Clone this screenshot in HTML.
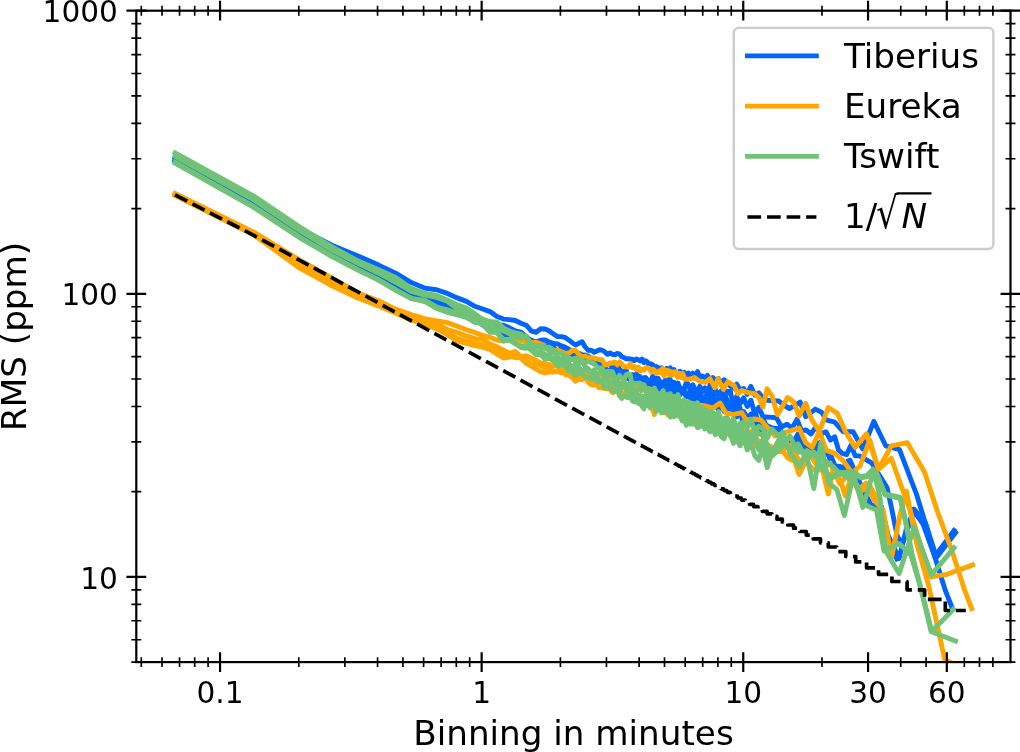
<!DOCTYPE html>
<html lang="en"><head><meta charset="utf-8"><title>RMS vs binning</title>
<style>html,body{margin:0;padding:0;background:#fff}svg{display:block}text{font-family:"DejaVu Sans","Liberation Sans",sans-serif;fill:#000}</style></head><body>
<svg width="1020" height="752" viewBox="0 0 1020 752">
<rect width="1020" height="752" fill="#fff"/>
<defs><clipPath id="ax"><rect x="136.30" y="10.70" width="874.20" height="651.40"/></clipPath></defs>
<g clip-path="url(#ax)" fill="none" stroke-linejoin="round" stroke-linecap="square" stroke-width="4.9">
<path d="M175.0 157.5 L253.8 200.5 L299.8 229.0 L332.5 245.5 L357.9 255.9 L378.6 265.1 L396.1 273.4 L411.3 282.6 L424.6 288.1 L436.6 289.8 L447.4 293.4 L457.3 297.9 L466.4 301.4 L474.8 306.3 L482.7 309.0 L490.0 311.6 L496.9 316.5 L503.4 319.1 L509.5 319.6 L515.4 320.5 L520.9 323.2 L526.2 325.2 L531.2 330.8 L536.1 332.3 L540.7 328.8 L545.2 329.0 L549.4 331.0 L553.6 334.1 L557.6 336.6 L561.4 336.6 L565.1 337.4 L568.7 339.9 L572.2 342.7 L575.6 345.0 L578.9 343.3 L582.1 341.8 L585.2 347.0 L588.3 350.5 L591.2 350.1 L594.1 352.3 L596.9 351.0 L599.6 349.7 L602.3 350.3 L604.9 352.0 L607.5 354.3 L610.0 352.9 L612.4 354.4 L614.8 354.9 L617.2 353.4 L619.5 354.1 L621.7 356.7 L623.9 357.6 L626.1 358.7 L628.2 358.7 L630.3 359.0 L632.3 359.2 L634.3 360.8 L636.3 359.0 L638.3 359.8 L640.2 360.9 L642.0 359.0 L643.9 362.5 L645.7 360.7 L647.5 362.0 L649.3 365.9 L651.0 363.8 L652.7 364.7 L654.4 368.4 L656.0 366.5 L658.0 367.5 L659.6 369.0 L661.4 367.8 L663.1 370.0 L664.9 370.7 L666.6 368.4 L668.5 371.6 L670.3 367.8 L672.2 371.9 L674.1 369.7 L676.0 372.3 L678.0 372.8 L680.0 371.3 L682.1 375.1 L684.2 372.3 L686.3 375.2 L688.4 373.1 L690.7 376.4 L692.9 373.2 L695.2 378.3 L697.5 371.5 L699.9 377.6 L702.4 375.9 L704.9 377.8 L707.4 375.4 L710.0 379.3 L712.7 377.6 L715.4 380.3 L718.3 378.6 L721.1 382.7 L724.1 379.7 L727.1 382.1 L730.2 385.9 L733.4 388.1 L736.7 384.2 L740.1 389.9 L743.6 388.5 L747.2 394.3 L750.9 386.4 L754.8 395.1 L758.8 392.8 L762.9 398.0 L767.2 400.3 L778.6 401.0 L785.1 405.9 L789.4 408.6 L800.2 402.1 L805.6 416.7 L815.3 409.1 L821.8 412.4 L826.1 419.9 L834.7 422.1 L843.4 431.8 L853.1 431.8 L862.8 449.0 L873.8 421.3 L885.7 445.8 L899.5 449.6 L916.4 494.0 L924.7 520.9 L934.7 556.4 L954.1 530.5" stroke="#0165fc"/>
<path d="M175.0 160.2 L253.8 203.6 L299.8 234.2 L332.5 253.2 L357.9 265.4 L378.6 274.8 L396.1 283.3 L411.3 292.4 L424.6 296.7 L436.6 301.2 L447.4 303.9 L457.3 308.4 L466.4 313.3 L474.8 316.6 L482.7 322.0 L490.0 323.8 L496.9 325.0 L503.4 325.3 L509.5 327.8 L515.4 330.9 L520.9 332.1 L526.2 337.1 L531.2 340.4 L536.1 341.9 L540.7 340.3 L545.2 340.0 L549.4 342.1 L553.6 343.5 L557.6 343.9 L561.4 345.9 L565.1 347.1 L568.7 349.1 L572.2 350.9 L575.6 351.8 L578.9 353.2 L582.1 354.9 L585.2 354.9 L588.3 356.2 L591.2 358.4 L594.1 358.7 L596.9 359.8 L599.6 361.6 L602.3 364.9 L604.9 364.8 L607.5 364.6 L610.0 364.9 L612.4 366.6 L614.8 371.9 L617.2 363.6 L619.5 369.8 L621.7 370.9 L623.9 373.0 L626.1 369.9 L628.2 376.9 L630.3 376.3 L632.3 374.6 L634.3 375.4 L636.3 374.1 L638.3 376.2 L640.2 376.7 L642.0 379.7 L643.9 379.1 L645.7 378.3 L647.5 380.5 L649.3 380.8 L651.0 380.4 L652.7 376.3 L654.4 382.5 L656.0 378.2 L658.0 378.3 L659.6 381.0 L661.4 384.2 L663.1 384.5 L664.9 380.3 L666.6 386.8 L668.5 379.4 L670.3 379.5 L672.2 387.0 L674.1 382.2 L676.0 388.4 L678.0 383.1 L680.0 389.3 L682.1 389.2 L684.2 388.7 L686.3 382.4 L688.4 384.5 L690.7 391.6 L692.9 384.8 L695.2 389.9 L697.5 391.3 L699.9 386.4 L702.4 391.7 L704.9 387.9 L707.4 394.7 L710.0 384.9 L712.7 396.8 L715.4 389.4 L718.3 396.9 L721.1 390.8 L724.1 401.6 L727.1 391.5 L730.2 391.1 L733.4 404.9 L736.7 396.4 L740.1 403.7 L743.6 397.9 L747.2 406.4 L750.9 400.2 L754.8 414.2 L758.8 407.4 L762.9 416.6 L776.3 417.8 L781.6 427.0 L787.0 424.3 L792.0 428.1 L797.0 419.4 L801.5 430.7 L806.0 430.0 L811.0 434.0 L816.0 426.7 L821.0 433.6 L826.1 431.9 L830.4 440.1 L834.7 436.8 L838.5 450.0 L842.3 453.4 L846.6 454.6 L850.9 445.4 L855.2 455.7 L859.5 455.9 L871.9 463.2 L887.0 487.5 L891.3 506.9 L897.0 535.0 L902.0 545.0 L908.0 528.0 L913.9 509.0 L925.5 523.0 L936.5 557.5 L955.5 532.8" stroke="#0165fc"/>
<path d="M175.0 160.5 L253.8 203.9 L299.8 234.5 L332.5 253.5 L357.9 265.9 L378.6 275.9 L396.1 284.8 L411.3 293.7 L424.6 299.1 L436.6 301.3 L447.4 305.2 L457.3 308.9 L466.4 315.4 L474.8 319.5 L482.7 325.1 L490.0 328.5 L496.9 330.5 L503.4 334.7 L509.5 334.9 L515.4 335.5 L520.9 335.6 L526.2 340.7 L531.2 342.9 L536.1 342.0 L540.7 344.7 L545.2 346.6 L549.4 344.8 L553.6 347.5 L557.6 351.6 L561.4 348.1 L565.1 352.3 L568.7 356.4 L572.2 353.7 L575.6 354.6 L578.9 356.9 L582.1 358.8 L585.2 360.0 L588.3 357.6 L591.2 359.6 L594.1 362.6 L596.9 363.1 L599.6 367.0 L602.3 365.8 L604.9 366.5 L607.5 372.2 L610.0 370.0 L612.4 368.8 L614.8 371.6 L617.2 372.2 L619.5 375.1 L621.7 375.6 L623.9 374.7 L626.1 375.0 L628.2 375.4 L630.3 380.4 L632.3 383.3 L634.3 379.6 L636.3 381.1 L638.3 381.4 L640.2 380.0 L642.0 380.1 L643.9 380.6 L645.7 377.5 L647.5 380.2 L649.3 383.9 L651.0 386.0 L652.7 383.9 L654.4 383.5 L656.0 386.3 L658.0 390.8 L659.6 384.2 L661.4 388.7 L663.1 389.0 L664.9 383.8 L666.6 386.1 L668.5 386.5 L670.3 385.7 L672.2 391.7 L674.1 385.7 L676.0 392.3 L678.0 388.7 L680.0 387.7 L682.1 389.0 L684.2 389.5 L686.3 393.9 L688.4 396.3 L690.7 391.7 L692.9 397.4 L695.2 392.4 L697.5 391.9 L699.9 392.7 L702.4 401.2 L704.9 396.6 L707.4 403.3 L710.0 403.2 L712.7 397.8 L715.4 403.6 L718.3 397.3 L721.1 398.6 L724.1 405.6 L727.1 399.4 L730.2 408.4 L733.4 409.8 L736.7 402.5 L740.1 412.9 L743.6 411.6 L747.2 417.1 L750.9 420.4 L754.8 409.6 L758.8 425.5 L762.9 418.1 L767.2 427.8 L780.0 428.8 L785.0 439.0 L790.0 437.9 L795.0 440.9 L800.0 434.9 L805.0 446.6 L810.0 447.3 L815.0 450.2 L820.0 442.6 L825.0 453.7 L830.0 453.5 L835.0 466.0 L840.0 466.4 L845.0 469.1 L850.0 460.2 L860.0 483.0 L870.8 504.7 L881.6 506.9 L888.0 535.0 L899.1 558.5 L906.5 528.0 L914.0 511.0 L923.0 524.0 L934.7 556.4 L945.5 590.9 L952.3 608.2" stroke="#0165fc"/>
<path d="M175.0 160.8 L253.8 204.0 L299.8 234.5 L332.5 253.8 L357.9 266.4 L378.6 276.0 L396.1 283.9 L411.3 293.6 L424.6 298.6 L436.6 304.5 L447.4 308.2 L457.3 312.5 L466.4 315.4 L474.8 320.5 L482.7 323.0 L490.0 326.8 L496.9 330.0 L503.4 332.5 L509.5 333.3 L515.4 332.8 L520.9 335.4 L526.2 340.7 L531.2 343.7 L536.1 346.4 L540.7 345.7 L545.2 345.9 L549.4 350.1 L553.6 351.7 L557.6 351.6 L561.4 352.6 L565.1 351.7 L568.7 354.8 L572.2 359.1 L575.6 356.9 L578.9 358.5 L582.1 360.3 L585.2 361.2 L588.3 359.4 L591.2 362.4 L594.1 363.6 L596.9 365.1 L599.6 366.0 L602.3 368.0 L604.9 367.3 L607.5 373.7 L610.0 371.5 L612.4 375.8 L614.8 377.5 L617.2 375.6 L619.5 373.2 L621.7 371.3 L623.9 373.1 L626.1 376.7 L628.2 378.9 L630.3 377.7 L632.3 378.8 L634.3 387.0 L636.3 383.2 L638.3 379.8 L640.2 384.0 L642.0 381.3 L643.9 377.7 L645.7 383.8 L647.5 382.7 L649.3 385.0 L651.0 390.0 L652.7 386.8 L654.4 384.3 L656.0 390.5 L658.0 382.3 L659.6 383.8 L661.4 391.8 L663.1 390.8 L664.9 385.4 L666.6 392.1 L668.5 388.4 L670.3 392.3 L672.2 392.8 L674.1 389.1 L676.0 394.2 L678.0 388.1 L680.0 394.8 L682.1 390.9 L684.2 392.6 L686.3 396.8 L688.4 393.9 L690.7 399.6 L692.9 402.1 L695.2 396.1 L697.5 395.6 L699.9 404.0 L702.4 399.5 L704.9 404.1 L707.4 407.2 L710.0 396.4 L712.7 407.2 L715.4 403.7 L718.3 410.0 L721.1 402.6 L724.1 411.5 L727.1 405.2 L730.2 411.7 L733.4 403.4 L736.7 416.8 L740.1 408.1 L743.6 427.1 L747.2 418.8 L750.9 414.1 L754.8 428.8 L758.8 419.9 L762.9 435.8 L767.2 425.6 L777.8 430.5 L782.8 440.6 L787.8 439.0 L792.8 442.9 L797.8 434.2 L802.8 447.0 L807.8 447.9 L812.8 449.9 L817.8 443.2 L822.8 453.9 L827.8 453.6 L832.8 466.6 L837.8 467.1 L842.8 468.4 L847.8 461.2 L852.8 477.9 L857.8 482.3 L868.6 505.2 L879.4 507.4 L885.8 535.5 L896.9 559.0" stroke="#0165fc"/>
<path d="M175.0 193.5 L253.8 232.2 L299.8 260.2 L332.5 278.5 L357.9 293.0 L378.6 300.7 L396.1 309.4 L411.3 314.6 L424.6 318.7 L436.6 320.8 L447.4 322.6 L457.3 326.3 L466.4 329.7 L474.8 332.5 L482.7 335.5 L490.0 337.3 L496.9 340.0 L503.4 341.2 L509.5 339.4 L515.4 340.2 L520.9 340.5 L526.2 341.4 L531.2 342.8 L536.1 342.3 L540.7 343.8 L545.2 346.9 L549.4 348.9 L553.6 350.5 L557.6 350.1 L561.4 351.7 L565.1 353.3 L568.7 353.3 L572.2 350.5 L575.6 350.4 L578.9 354.3 L582.1 357.0 L585.2 356.0 L588.3 357.9 L591.2 357.7 L594.1 358.1 L596.9 358.8 L599.6 359.8 L602.3 359.8 L604.9 364.8 L607.5 364.8 L610.0 362.9 L612.4 363.2 L614.8 362.0 L617.2 365.0 L619.5 361.9 L621.7 363.8 L623.9 366.5 L626.1 366.8 L628.2 367.1 L630.3 363.9 L632.3 367.6 L634.3 366.6 L636.3 369.7 L638.3 367.1 L640.2 371.1 L642.0 369.3 L643.9 370.1 L645.7 368.0 L647.5 368.0 L649.3 368.3 L651.0 371.8 L652.7 369.3 L654.4 370.0 L656.0 373.3 L657.7 372.5 L659.3 370.8 L660.9 372.9 L662.4 368.6 L664.0 376.1 L664.8 369.6 L666.4 373.3 L667.9 370.3 L669.5 375.2 L671.1 371.6 L672.7 375.0 L674.3 372.0 L676.0 371.6 L677.6 377.4 L679.4 373.2 L681.1 377.5 L682.9 373.4 L684.6 379.2 L690.0 379.1 L694.3 377.5 L699.7 381.3 L705.1 382.4 L710.0 378.6 L714.8 387.8 L718.0 378.6 L723.4 389.4 L727.8 381.8 L734.2 385.6 L738.0 393.7 L741.8 390.5 L748.3 392.6 L754.7 393.7 L759.0 397.5 L762.8 407.2 L767.1 388.8 L772.0 395.8 L777.4 414.7 L787.6 397.5 L793.6 401.8 L799.1 416.1 L805.6 403.2 L811.5 419.4 L819.3 431.2 L828.3 407.5 L837.4 413.4 L845.5 431.8 L855.2 447.4 L866.5 433.9 L878.5 469.3 L891.3 445.9 L907.3 442.7 L924.5 472.0 L936.9 510.0 L952.0 551.0 L964.9 590.9 L971.7 608.7" stroke="#ffa500"/>
<path d="M175.0 194.2 L253.8 233.0 L299.8 263.0 L332.5 281.5 L357.9 295.0 L378.6 302.7 L396.1 310.9 L411.3 316.0 L424.6 320.3 L436.6 323.7 L447.4 329.6 L457.3 332.5 L466.4 335.9 L474.8 338.6 L482.7 339.4 L490.0 344.1 L496.9 346.8 L503.4 350.2 L509.5 353.3 L515.4 351.4 L520.9 356.8 L526.2 355.6 L531.2 358.0 L536.1 360.5 L540.7 363.0 L545.2 363.8 L549.4 364.6 L553.6 366.1 L557.6 364.9 L561.4 367.3 L565.1 372.5 L568.7 366.4 L572.2 369.9 L575.6 371.5 L578.9 371.3 L582.1 373.3 L585.2 374.8 L588.3 375.2 L591.2 376.3 L594.1 375.4 L596.9 378.9 L599.6 378.0 L602.3 377.6 L604.9 384.0 L607.5 380.7 L610.0 380.9 L612.4 378.7 L614.8 383.3 L617.2 381.8 L619.5 382.7 L621.7 386.2 L623.9 386.8 L626.1 384.9 L628.2 387.7 L630.3 388.3 L632.3 387.7 L634.3 386.4 L636.3 389.6 L638.3 386.3 L640.2 390.3 L642.0 390.5 L643.9 388.2 L645.7 388.7 L647.5 397.0 L649.3 388.6 L651.0 392.4 L652.7 392.4 L654.4 394.6 L656.0 395.0 L657.7 396.7 L659.3 396.9 L660.9 394.1 L662.4 397.6 L664.0 398.0 L664.8 394.7 L666.4 400.1 L667.9 395.3 L669.5 398.9 L671.1 399.8 L672.7 401.7 L674.3 396.9 L676.0 401.1 L677.6 397.0 L679.4 404.3 L690.0 403.0 L698.0 405.0 L706.0 406.0 L713.0 408.0 L720.0 403.0 L725.6 412.6 L733.0 414.7 L741.8 412.6 L746.0 420.0 L754.7 419.0 L761.0 420.0 L765.5 425.5 L775.0 436.0 L784.0 432.9 L799.1 428.0 L805.6 442.6 L812.1 447.4 L819.3 431.2 L826.1 450.1 L834.7 453.4 L843.4 460.9 L852.0 473.0 L860.0 466.0 L869.7 440.0 L878.3 469.1 L891.3 458.3 L903.2 491.8 L909.9 510.0 L930.4 576.9 L945.5 574.7 L972.5 565.0" stroke="#ffa500"/>
<path d="M175.0 194.8 L253.8 234.0 L299.8 266.0 L332.5 284.0 L357.9 297.0 L378.6 304.7 L396.1 311.8 L411.3 317.9 L424.6 322.1 L436.6 328.1 L447.4 334.8 L457.3 340.8 L466.4 343.4 L474.8 345.7 L482.7 347.2 L490.0 349.4 L496.9 353.9 L503.4 358.0 L509.5 357.0 L515.4 355.4 L520.9 358.0 L526.2 363.3 L531.2 366.0 L536.1 369.2 L540.7 371.6 L545.2 373.0 L549.4 371.9 L553.6 372.1 L557.6 370.6 L561.4 368.7 L565.1 374.4 L568.7 375.3 L572.2 377.5 L575.6 381.3 L578.9 379.2 L582.1 379.8 L585.2 377.5 L588.3 382.4 L591.2 384.7 L594.1 384.6 L596.9 385.4 L599.6 387.8 L602.3 387.9 L604.9 388.6 L607.5 388.6 L610.0 389.5 L612.4 392.6 L614.8 391.7 L617.2 391.7 L619.5 392.2 L621.7 393.9 L623.9 395.6 L626.1 397.2 L628.2 397.4 L630.3 397.2 L632.3 395.2 L634.3 400.2 L636.3 398.3 L638.3 400.4 L640.2 404.3 L642.0 403.5 L643.9 401.7 L645.7 405.4 L647.5 404.4 L649.3 404.3 L651.0 408.5 L652.7 408.4 L654.4 414.5 L656.0 406.2 L657.7 407.8 L659.3 409.5 L660.9 405.7 L662.4 411.8 L664.0 408.8 L664.8 412.9 L666.4 409.2 L667.9 414.8 L669.5 413.4 L671.1 410.9 L672.7 409.7 L674.3 415.8 L676.0 409.8 L677.6 408.8 L679.4 416.6 L681.1 413.9 L682.9 418.6 L684.6 411.9 L686.5 420.2 L688.3 414.3 L690.2 419.8 L692.1 417.1 L694.0 424.5 L696.0 423.0 L698.0 422.1 L700.1 418.2 L702.2 423.5 L704.3 421.4 L706.4 421.2 L708.7 426.8 L710.9 422.8 L713.2 430.4 L715.5 428.9 L717.9 425.0 L720.4 434.2 L722.9 432.9 L725.4 432.9 L728.0 428.3 L730.7 436.4 L733.4 429.4 L736.3 440.1 L739.1 432.0 L742.1 431.0 L745.1 442.4 L748.2 433.7 L751.4 437.1 L754.7 446.4 L758.1 440.5 L770.0 452.0 L780.0 447.0 L788.0 458.0 L794.8 461.6 L799.1 474.5 L805.6 461.6 L814.0 470.0 L821.8 467.0 L828.3 493.9 L833.6 467.0 L840.0 480.0 L845.5 496.1 L850.9 476.7 L858.0 490.0 L866.0 483.0 L874.0 500.0 L883.0 510.0 L891.6 557.5 L900.0 515.0 L906.4 491.2 L916.4 542.4 L928.5 585.0 L944.7 659.5 L960.0 667.0" stroke="#ffa500"/>
<path d="M175.0 195.3 L253.8 234.8 L299.8 268.2 L332.5 286.0 L357.9 298.0 L378.6 306.0 L396.1 313.2 L411.3 320.2 L424.6 324.0 L436.6 329.0 L447.4 333.5 L457.3 338.3 L466.4 341.1 L474.8 343.3 L482.7 345.0 L490.0 348.5 L496.9 352.1 L503.4 354.6 L509.5 355.7 L515.4 357.8 L520.9 357.3 L526.2 361.0 L531.2 364.1 L536.1 363.9 L540.7 365.4 L545.2 368.3 L549.4 368.1 L553.6 371.4 L557.6 371.1 L561.4 373.0 L565.1 372.0 L568.7 374.2 L572.2 377.3 L575.6 373.7 L578.9 378.5 L582.1 374.2 L585.2 377.5 L588.3 380.0 L591.2 379.0 L594.1 381.0 L596.9 383.7 L599.6 383.1 L602.3 379.6 L604.9 384.6 L607.5 386.6 L610.0 386.0 L612.4 386.5 L614.8 387.5 L617.2 385.1 L619.5 387.9 L621.7 393.1 L623.9 393.4 L626.1 393.4 L628.2 391.8 L630.3 392.5 L632.3 395.2 L634.3 395.2 L636.3 395.7 L638.3 395.2 L640.2 397.9 L642.0 396.3 L643.9 397.7 L645.7 400.9 L647.5 395.9 L649.3 400.7 L651.0 398.6 L652.7 395.3 L654.4 398.3 L656.0 399.3 L657.7 404.6 L659.3 406.0 L660.9 399.3 L662.4 406.2 L664.0 403.0 L664.8 406.6 L666.4 403.8 L667.9 403.7 L669.5 409.2 L671.1 403.3 L672.7 404.5 L674.3 404.4 L676.0 414.1 L677.6 412.0 L679.4 406.3 L681.1 413.4 L682.9 407.9 L684.6 407.8 L686.5 414.2 L688.3 407.7 L690.2 410.2 L692.1 418.4 L694.0 409.4 L696.0 418.6 L698.0 412.5 L700.1 417.9 L702.2 414.7 L704.3 419.6 L706.4 414.9 L708.7 412.5 L710.9 418.4 L713.2 416.1 L715.5 424.5 L717.9 424.2 L720.4 420.4 L722.9 429.7 L725.4 419.7 L728.0 430.0 L730.7 422.1 L733.4 432.6 L736.3 425.0 L739.1 435.0 L742.1 425.3 L745.1 430.7 L748.2 436.4 L751.4 431.6 L754.7 434.0 L758.1 441.8 L770.0 446.0 L780.0 452.0 L790.0 445.0 L800.0 462.0 L810.0 455.0 L820.0 470.0 L830.0 463.0 L840.0 484.0 L850.0 472.0 L860.0 492.0 L870.0 486.0 L880.0 505.0" stroke="#ffa500"/>
<path d="M175.0 153.0 L253.8 196.1 L299.8 227.1 L332.5 247.2 L357.9 260.9 L378.6 269.8 L396.1 277.8 L411.3 288.4 L424.6 293.2 L436.6 295.5 L447.4 300.0 L457.3 304.8 L466.4 308.1 L474.8 313.6 L482.7 319.8 L490.0 321.5 L496.9 322.2 L503.4 327.8 L509.5 331.2 L515.4 333.0 L520.9 334.0 L526.2 337.5 L531.2 345.7 L536.1 345.7 L540.7 345.6 L545.2 346.9 L549.4 347.2 L553.6 350.0 L557.6 353.0 L561.4 353.1 L565.1 356.0 L568.7 357.7 L572.2 359.6 L575.6 358.1 L578.9 358.6 L582.1 360.5 L585.2 362.5 L588.3 361.3 L591.2 362.3 L594.1 363.4 L596.9 367.0 L599.6 368.3 L602.3 368.0 L604.9 374.4 L607.5 371.3 L610.0 371.5 L612.4 371.8 L614.8 377.5 L617.2 379.5 L619.5 375.2 L621.7 377.9 L623.9 379.4 L626.1 375.0 L628.2 373.8 L630.3 375.0 L632.3 386.6 L634.3 383.2 L636.3 383.6 L638.3 383.2 L640.2 383.1 L642.0 390.6 L643.9 384.7 L645.7 387.9 L647.5 395.1 L649.3 389.1 L651.0 389.7 L652.7 389.8 L654.4 388.0 L656.0 391.4 L658.0 397.1 L659.6 393.5 L661.4 395.7 L663.1 390.5 L664.9 397.4 L666.6 394.4 L668.5 399.8 L670.3 393.6 L672.2 399.6 L674.1 396.2 L676.0 402.6 L678.0 394.6 L680.0 404.1 L682.1 402.8 L684.2 400.0 L686.3 405.0 L688.4 401.9 L690.7 406.3 L692.9 403.6 L695.2 408.4 L697.5 402.8 L699.9 413.8 L702.4 407.2 L704.9 413.5 L707.4 415.3 L710.0 411.2 L712.7 412.2 L715.4 418.2 L718.3 411.5 L721.1 421.3 L724.1 418.4 L727.1 417.6 L730.2 425.8 L733.4 418.8 L736.7 429.1 L740.1 426.5 L743.6 421.7 L747.2 428.1 L750.9 419.4 L754.8 431.6 L758.8 426.3 L762.9 428.8 L767.2 438.5 L771.6 429.0 L783.0 440.0 L790.0 450.0 L798.0 444.0 L806.0 458.0 L814.0 452.0 L822.0 468.0 L830.6 477.0 L839.4 472.7 L853.5 471.8 L860.0 476.7 L866.5 475.6 L872.9 469.1 L876.2 472.4 L884.8 493.9 L899.9 497.2 L905.3 520.9 L910.5 548.0 L920.7 587.7 L931.8 631.4 L953.4 609.3" stroke="#6fc276"/>
<path d="M175.0 156.2 L253.8 199.8 L299.8 230.6 L332.5 250.3 L357.9 263.4 L378.6 273.2 L396.1 282.5 L411.3 291.3 L424.6 295.1 L436.6 297.4 L447.4 301.2 L457.3 308.8 L466.4 313.4 L474.8 317.1 L482.7 319.0 L490.0 323.1 L496.9 328.7 L503.4 330.9 L509.5 333.8 L515.4 337.3 L520.9 338.4 L526.2 335.9 L531.2 343.7 L536.1 346.5 L540.7 347.6 L545.2 348.5 L549.4 350.3 L553.6 351.4 L557.6 357.3 L561.4 359.2 L565.1 357.6 L568.7 363.2 L572.2 369.6 L575.6 362.6 L578.9 363.7 L582.1 361.5 L585.2 366.4 L588.3 369.0 L591.2 373.3 L594.1 370.0 L596.9 374.4 L599.6 372.4 L602.3 374.3 L604.9 376.1 L607.5 373.0 L610.0 375.8 L612.4 375.0 L614.8 382.3 L617.2 381.9 L619.5 383.2 L621.7 383.6 L623.9 381.3 L626.1 385.0 L628.2 385.4 L630.3 383.0 L632.3 386.1 L634.3 392.3 L636.3 393.5 L638.3 389.0 L640.2 389.6 L642.0 384.7 L643.9 389.8 L645.7 387.9 L647.5 389.4 L649.3 395.5 L651.0 390.4 L652.7 399.8 L654.4 396.5 L656.0 400.7 L658.0 401.2 L659.6 396.7 L661.4 402.1 L663.1 399.0 L664.9 399.6 L666.6 403.9 L668.5 399.0 L670.3 405.7 L672.2 401.6 L674.1 406.1 L676.0 402.3 L678.0 409.0 L680.0 405.0 L682.1 412.2 L684.2 411.7 L686.3 407.6 L688.4 413.3 L690.7 413.0 L692.9 408.5 L695.2 416.2 L697.5 410.6 L699.9 416.3 L702.4 413.2 L704.9 418.4 L707.4 410.8 L710.0 420.9 L712.7 417.6 L715.4 424.4 L718.3 418.2 L721.1 432.2 L724.1 427.8 L727.1 422.9 L730.2 431.5 L733.4 426.4 L736.7 436.0 L740.1 423.3 L743.6 437.7 L747.2 430.5 L750.9 438.3 L754.8 428.7 L758.8 434.0 L762.9 434.7 L767.2 444.8 L771.6 451.7 L783.6 441.2 L790.6 451.2 L798.6 445.2 L806.6 459.2 L814.6 453.2 L822.6 469.2 L831.2 478.2 L840.0 473.9 L854.1 473.0 L860.6 477.9 L867.1 476.8 L873.5 470.3 L876.8 473.6 L885.4 495.1 L900.5 498.4 L905.9 522.1 L911.1 549.2" stroke="#6fc276"/>
<path d="M175.0 162.2 L253.8 206.5 L299.8 237.0 L332.5 256.1 L357.9 269.7 L378.6 280.0 L396.1 290.0 L411.3 298.6 L424.6 300.2 L436.6 307.0 L447.4 309.9 L457.3 313.4 L466.4 317.2 L474.8 322.3 L482.7 323.1 L490.0 325.6 L496.9 332.1 L503.4 339.4 L509.5 339.7 L515.4 343.6 L520.9 347.6 L526.2 348.3 L531.2 346.3 L536.1 351.8 L540.7 352.0 L545.2 354.4 L549.4 354.6 L553.6 359.1 L557.6 362.6 L561.4 362.1 L565.1 361.6 L568.7 362.8 L572.2 370.1 L575.6 368.0 L578.9 367.4 L582.1 371.4 L585.2 369.3 L588.3 371.0 L591.2 371.0 L594.1 375.6 L596.9 376.8 L599.6 381.6 L602.3 379.8 L604.9 379.6 L607.5 379.3 L610.0 384.2 L612.4 382.7 L614.8 385.1 L617.2 384.9 L619.5 391.4 L621.7 386.5 L623.9 385.1 L626.1 390.0 L628.2 390.7 L630.3 391.2 L632.3 395.4 L634.3 396.4 L636.3 396.8 L638.3 401.1 L640.2 395.4 L642.0 400.1 L643.9 396.5 L645.7 399.6 L647.5 391.1 L649.3 396.7 L651.0 401.5 L652.7 404.0 L654.4 401.8 L656.0 398.9 L658.0 405.6 L659.6 409.2 L661.4 400.1 L663.1 403.3 L664.9 407.2 L666.6 402.2 L668.5 410.1 L670.3 404.5 L672.2 412.4 L674.1 407.5 L676.0 415.4 L678.0 410.1 L680.0 414.2 L682.1 410.2 L684.2 416.4 L686.3 412.9 L688.4 417.7 L690.7 415.1 L692.9 421.9 L695.2 413.9 L697.5 420.7 L699.9 416.9 L702.4 422.9 L704.9 419.6 L707.4 425.4 L710.0 421.0 L712.7 428.4 L715.4 424.6 L718.3 433.6 L721.1 426.5 L724.1 423.8 L727.1 428.0 L730.2 435.6 L733.4 427.9 L736.7 438.5 L740.1 433.0 L743.6 442.6 L747.2 437.3 L750.9 445.8 L754.8 436.0 L758.8 450.0 L762.9 439.3 L767.2 455.7 L771.6 456.4 L783.0 446.0 L790.0 436.0 L798.0 452.0 L806.0 452.0 L813.8 488.5 L820.9 443.0 L828.8 483.2 L836.8 489.4 L844.4 515.5 L853.5 474.0 L862.8 507.4 L873.6 471.3 L880.0 497.0 L885.1 549.9 L899.1 573.6 L914.2 527.3 L931.5 574.7 L954.1 547.8" stroke="#6fc276"/>
<path d="M175.0 163.0 L253.8 207.4 L299.8 237.8 L332.5 256.8 L357.9 270.1 L378.6 279.8 L396.1 290.6 L411.3 298.3 L424.6 301.5 L436.6 308.5 L447.4 312.3 L457.3 314.8 L466.4 317.5 L474.8 321.1 L482.7 324.6 L490.0 332.2 L496.9 332.4 L503.4 340.8 L509.5 340.1 L515.4 343.6 L520.9 345.9 L526.2 345.8 L531.2 350.2 L536.1 354.8 L540.7 354.5 L545.2 359.4 L549.4 358.2 L553.6 361.0 L557.6 365.9 L561.4 364.5 L565.1 365.8 L568.7 370.9 L572.2 371.7 L575.6 375.8 L578.9 371.4 L582.1 374.2 L585.2 376.8 L588.3 377.3 L591.2 379.3 L594.1 378.5 L596.9 381.5 L599.6 381.3 L602.3 382.9 L604.9 387.8 L607.5 384.5 L610.0 387.9 L612.4 390.3 L614.8 391.6 L617.2 388.5 L619.5 395.7 L621.7 398.5 L623.9 395.8 L626.1 395.9 L628.2 397.7 L630.3 395.0 L632.3 400.6 L634.3 401.9 L636.3 401.2 L638.3 403.2 L640.2 400.6 L642.0 406.3 L643.9 408.9 L645.7 399.5 L647.5 402.7 L649.3 407.0 L651.0 405.0 L652.7 404.0 L654.4 406.6 L656.0 411.7 L658.0 408.3 L659.6 408.2 L661.4 412.7 L663.1 407.8 L664.9 412.1 L666.6 407.1 L668.5 410.3 L670.3 417.1 L672.2 415.7 L674.1 416.7 L676.0 414.4 L678.0 414.2 L680.0 415.4 L682.1 420.9 L684.2 418.3 L686.3 425.4 L688.4 418.0 L690.7 424.2 L692.9 421.5 L695.2 422.2 L697.5 427.5 L699.9 426.9 L702.4 422.1 L704.9 429.1 L707.4 426.8 L710.0 431.8 L712.7 428.0 L715.4 434.8 L718.3 426.5 L721.1 436.6 L724.1 438.7 L727.1 430.4 L730.2 433.0 L733.4 443.4 L736.7 438.9 L740.1 445.8 L743.6 436.1 L747.2 450.0 L750.9 443.3 L754.8 455.8 L758.8 460.3 L762.9 447.0 L767.2 467.7 L771.6 453.4 L783.0 432.0 L790.0 453.0 L799.7 466.5 L806.8 450.6 L820.9 457.7 L831.5 465.6 L839.4 472.7 L848.0 478.0 L858.0 485.9 L863.3 503.5 L869.4 507.0 L876.5 510.0 L884.0 551.0 L899.1 543.4 L911.0 555.3 L920.7 587.7 L931.0 631.5 L955.5 641.1" stroke="#6fc276"/>
<path d="M175.0 194.9 L253.7 235.3 L600.0 423.2 L606.1 426.5 L607.2 427.1 L608.4 427.7 L609.6 428.4 L610.8 429.0 L612.0 429.7 L613.2 430.3 L614.4 431.0 L615.7 431.7 L616.9 432.3 L618.2 433.0 L619.5 433.7 L619.5 433.7 L620.8 434.4 L620.8 434.4 L622.1 435.1 L622.1 435.1 L623.4 435.9 L623.5 435.9 L624.8 436.6 L624.8 436.6 L626.1 437.3 L626.2 437.3 L627.5 438.1 L627.6 438.1 L628.9 438.8 L629.0 438.8 L630.3 439.6 L630.4 439.6 L631.7 440.4 L631.9 440.4 L633.2 441.2 L633.3 441.2 L634.6 442.0 L634.8 442.0 L636.1 442.8 L636.3 442.8 L637.6 443.6 L637.8 443.6 L639.2 444.4 L639.4 444.4 L640.7 445.3 L641.0 445.3 L642.3 446.1 L642.5 446.1 L643.9 447.0 L644.2 447.0 L645.5 447.8 L645.8 447.8 L647.1 448.7 L647.4 448.7 L648.8 449.6 L649.1 449.6 L650.4 450.5 L650.8 450.5 L652.2 451.5 L652.6 451.5 L653.9 452.4 L654.3 452.4 L655.7 453.4 L656.1 453.4 L657.4 454.3 L658.0 454.3 L659.3 455.3 L659.8 455.3 L661.1 456.3 L661.7 456.3 L663.0 457.3 L663.6 457.3 L664.9 458.4 L665.5 458.4 L666.8 459.4 L667.5 459.4 L668.8 460.5 L669.5 460.5 L670.8 461.6 L671.6 461.6 L672.9 462.7 L673.7 462.7 L675.0 463.8 L675.8 463.8 L677.1 465.0 L678.0 465.0 L679.2 466.2 L680.2 466.2 L681.5 467.4 L682.5 467.4 L683.7 468.6 L684.8 468.6 L686.0 469.8 L687.1 469.8 L688.3 471.1 L689.5 471.1 L690.7 472.4 L692.0 472.4 L693.2 473.7 L694.5 473.7 L695.7 475.1 L697.1 475.1 L698.2 476.5 L699.7 476.5 L700.8 477.9 L702.4 477.9 L703.5 479.3 L705.2 479.3 L706.2 480.8 L708.0 480.8 L709.1 482.3 L710.9 482.3 L711.9 483.9 L713.9 483.9 L714.9 485.5 L717.0 485.5 L717.9 487.1 L720.2 487.1 L721.0 488.8 L723.4 488.8 L724.2 490.6 L726.8 490.6 L727.5 492.3 L730.2 492.3 L730.9 494.2 L733.8 494.2 L734.4 496.1 L737.4 496.1 L738.0 498.0 L741.2 498.0 L741.7 500.1 L745.2 500.1 L745.6 502.1 L749.3 502.1 L749.6 504.3 L753.5 504.3 L753.7 506.6 L757.9 506.6 L758.0 508.9 L762.4 508.9 L762.4 511.3 L767.1 511.3 L767.1 513.8 L771.9 513.8 L771.9 516.4 L777.0 516.4 L777.0 519.2 L782.3 519.2 L782.3 522.0 L787.8 522.0 L787.8 525.0 L793.6 525.0 L793.6 528.2 L799.8 528.2 L799.8 531.5 L806.3 531.5 L806.3 535.1 L813.2 535.1 L813.2 538.8 L820.5 538.8 L820.5 542.8 L828.3 542.8 L828.3 547.0 L836.7 547.0 L836.7 551.6 L845.8 551.6 L845.8 556.5 L855.7 556.5 L855.7 561.9 L866.6 561.9 L866.6 567.8 L878.5 567.8 L878.5 574.3 L891.9 574.3 L891.9 581.5 L907.1 581.5 L907.1 589.8 L924.6 589.8 L924.6 599.3 L945.3 599.3 L945.3 610.5 L965.8 610.5" stroke="#000" stroke-width="3.7" stroke-linecap="butt" stroke-linejoin="round" stroke-dasharray="13.7 5.9"/>
</g>
<g stroke="#000" fill="none" stroke-linecap="butt">
<path d="M220.05 0.80V20.60M220.05 652.20V672.00M481.65 0.80V20.60M481.65 652.20V672.00M743.25 0.80V20.60M743.25 652.20V672.00M868.06 0.80V20.60M868.06 652.20V672.00M946.81 0.80V20.60M946.81 652.20V672.00M126.40 576.90H146.20M1000.60 576.90H1020.40M126.40 293.80H146.20M1000.60 293.80H1020.40M126.40 10.70H146.20M1000.60 10.70H1020.40" stroke-width="2.2"/>
<path d="M141.30 5.75V15.65M141.30 657.15V667.05M162.01 5.75V15.65M162.01 657.15V667.05M179.53 5.75V15.65M179.53 657.15V667.05M194.70 5.75V15.65M194.70 657.15V667.05M208.08 5.75V15.65M208.08 657.15V667.05M298.80 5.75V15.65M298.80 657.15V667.05M344.86 5.75V15.65M344.86 657.15V667.05M377.55 5.75V15.65M377.55 657.15V667.05M402.90 5.75V15.65M402.90 657.15V667.05M423.61 5.75V15.65M423.61 657.15V667.05M441.13 5.75V15.65M441.13 657.15V667.05M456.30 5.75V15.65M456.30 657.15V667.05M469.68 5.75V15.65M469.68 657.15V667.05M560.40 5.75V15.65M560.40 657.15V667.05M606.46 5.75V15.65M606.46 657.15V667.05M639.15 5.75V15.65M639.15 657.15V667.05M664.50 5.75V15.65M664.50 657.15V667.05M685.21 5.75V15.65M685.21 657.15V667.05M702.73 5.75V15.65M702.73 657.15V667.05M717.90 5.75V15.65M717.90 657.15V667.05M731.28 5.75V15.65M731.28 657.15V667.05M822.00 5.75V15.65M822.00 657.15V667.05M900.75 5.75V15.65M900.75 657.15V667.05M926.10 5.75V15.65M926.10 657.15V667.05M964.33 5.75V15.65M964.33 657.15V667.05M979.50 5.75V15.65M979.50 657.15V667.05M992.88 5.75V15.65M992.88 657.15V667.05M131.35 662.12H141.25M1005.55 662.12H1015.45M131.35 639.71H141.25M1005.55 639.71H1015.45M131.35 620.75H141.25M1005.55 620.75H1015.45M131.35 604.34H141.25M1005.55 604.34H1015.45M131.35 589.85H141.25M1005.55 589.85H1015.45M131.35 491.68H141.25M1005.55 491.68H1015.45M131.35 441.83H141.25M1005.55 441.83H1015.45M131.35 406.46H141.25M1005.55 406.46H1015.45M131.35 379.02H141.25M1005.55 379.02H1015.45M131.35 356.61H141.25M1005.55 356.61H1015.45M131.35 337.65H141.25M1005.55 337.65H1015.45M131.35 321.24H141.25M1005.55 321.24H1015.45M131.35 306.75H141.25M1005.55 306.75H1015.45M131.35 208.58H141.25M1005.55 208.58H1015.45M131.35 158.73H141.25M1005.55 158.73H1015.45M131.35 123.36H141.25M1005.55 123.36H1015.45M131.35 95.92H141.25M1005.55 95.92H1015.45M131.35 73.51H141.25M1005.55 73.51H1015.45M131.35 54.55H141.25M1005.55 54.55H1015.45M131.35 38.14H141.25M1005.55 38.14H1015.45M131.35 23.65H141.25M1005.55 23.65H1015.45" stroke-width="1.65"/>
<rect x="136.30" y="10.70" width="874.20" height="651.40" stroke-width="2.2" stroke-linejoin="miter"/>
</g>
<g font-size="29.6">
<text x="220.05" y="702.6" text-anchor="middle">0.1</text>
<text x="481.65" y="702.6" text-anchor="middle">1</text>
<text x="743.25" y="702.6" text-anchor="middle">10</text>
<text x="868.06" y="702.6" text-anchor="middle">30</text>
<text x="946.81" y="702.6" text-anchor="middle">60</text>
<text x="117.9" y="588.50" text-anchor="end">10</text>
<text x="117.9" y="305.40" text-anchor="end">100</text>
<text x="117.9" y="22.30" text-anchor="end">1000</text>
</g>
<text x="573.5" y="745.2" font-size="34.2" text-anchor="middle">Binning in minutes</text>
<text transform="translate(26.2 336.4) rotate(-90)" font-size="34.2" text-anchor="middle">RMS (ppm)</text>
<rect x="733.8" y="27.9" width="259.6" height="221.1" rx="5" ry="5" fill="#fff" fill-opacity="0.8" stroke="#ccc" stroke-width="2.4"/>
<g fill="none" stroke-width="4.9" stroke-linecap="square">
<path d="M747.4 55.9H816.4" stroke="#0165fc"/>
<path d="M747.4 106.1H816.4" stroke="#ffa500"/>
<path d="M747.4 156.4H816.4" stroke="#6fc276"/>
<path d="M747.4 217H816.4" stroke="#000" stroke-width="3.7" stroke-linecap="butt" stroke-dasharray="13.7 5.9"/>
</g>
<g font-size="34.2">
<text x="844" y="67.8">Tiberius</text>
<text x="844" y="118">Eureka</text>
<text x="844" y="168.4">Tswift</text>
<text x="844" y="228">1/</text>
<text transform="translate(876.3 228) scale(1 1.27)" x="0" y="0">√</text>
<text x="901.5" y="228" font-style="oblique">N</text>
</g>
<path d="M896.5 193.3H931.5" stroke="#000" stroke-width="2.2" fill="none"/>
</svg></body></html>
